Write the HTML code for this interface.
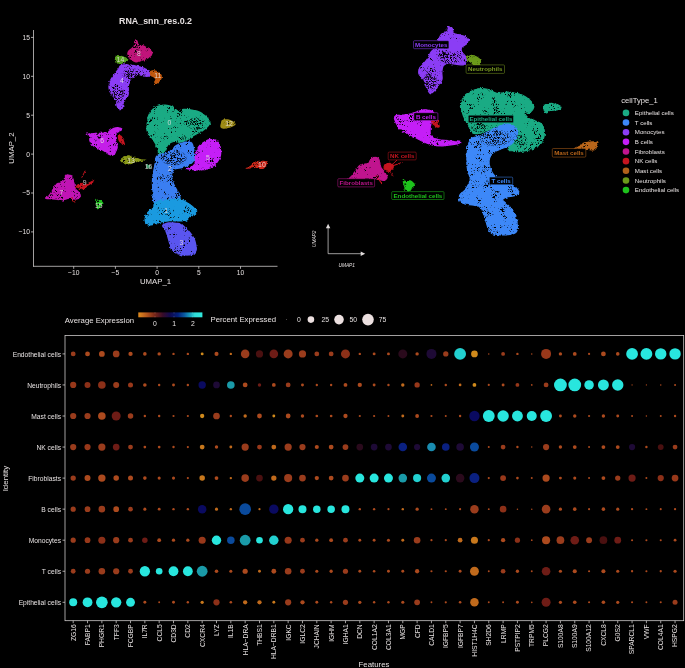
<!DOCTYPE html>
<html><head><meta charset="utf-8"><style>
html,body{margin:0;padding:0;background:#000;}
body{width:685px;height:668px;overflow:hidden;}
svg{display:block;}
text{font-family:"Liberation Sans", "DejaVu Sans", sans-serif;}
</style></head><body>
<svg width="685" height="668" viewBox="0 0 685 668">
<rect width="685" height="668" fill="#000"/>
<defs><filter id="tex" x="-10%" y="-10%" width="120%" height="120%" color-interpolation-filters="sRGB"><feTurbulence type="fractalNoise" baseFrequency="0.35" numOctaves="2" seed="2" result="t"/><feDisplacementMap in="SourceGraphic" in2="t" scale="3" xChannelSelector="R" yChannelSelector="G" result="d"/><feTurbulence type="fractalNoise" baseFrequency="1.7" numOctaves="1" seed="5" result="n1"/><feColorMatrix in="n1" type="matrix" values="0 0 0 0 0  0 0 0 0 0  0 0 0 0 0  1 0 0 0 0" result="m1"/><feTurbulence type="fractalNoise" baseFrequency="0.12" numOctaves="2" seed="9" result="n2"/><feColorMatrix in="n2" type="matrix" values="0 0 0 0 0  0 0 0 0 0  0 0 0 0 0  1 0 0 0 0" result="m2"/><feComposite in="m1" in2="m2" operator="arithmetic" k1="0" k2="7" k3="5" k4="-3.9" result="m"/><feComposite in="d" in2="m" operator="in"/></filter><filter id="holes" x="-20%" y="-20%" width="140%" height="140%" color-interpolation-filters="sRGB"><feTurbulence type="fractalNoise" baseFrequency="1.3" numOctaves="1" seed="11" result="h"/><feColorMatrix in="h" type="matrix" values="0 0 0 0 0  0 0 0 0 0  0 0 0 0 0  -9 0 0 0 4.6" result="hm"/><feComposite in="SourceGraphic" in2="hm" operator="in"/></filter><radialGradient id="hg"><stop offset="0" stop-color="#000" stop-opacity="1"/><stop offset="0.7" stop-color="#000" stop-opacity="0.8"/><stop offset="1" stop-color="#000" stop-opacity="0"/></radialGradient></defs>
<g filter="url(#tex)">
<path d="M134.3,41.0C134.9,40.1 136.6,40.0 137.3,40.4C138.0,40.8 137.9,42.7 138.5,43.4C139.1,44.1 139.7,44.1 140.9,44.6C142.1,45.1 144.3,45.7 145.7,46.4C147.1,47.1 148.2,47.9 149.3,48.8C150.4,49.7 151.8,50.8 152.3,51.8C152.8,52.8 152.8,53.8 152.3,54.8C151.8,55.8 150.4,57.0 149.3,57.8C148.2,58.6 147.1,59.0 145.7,59.6C144.3,60.2 142.5,60.8 140.9,61.3C139.3,61.8 137.6,62.6 136.1,62.5C134.6,62.4 133.1,61.4 131.9,60.7C130.7,60.0 129.8,59.5 129.0,58.4C128.2,57.3 127.3,55.5 127.2,54.2C127.1,52.9 127.7,51.6 128.4,50.6C129.1,49.6 130.4,49.0 131.3,48.2C132.2,47.4 133.2,47.0 133.7,45.8C134.2,44.6 133.7,41.9 134.3,41.0Z" fill="#c0147a"/>
<path d="M116.0,55.2C116.7,54.7 118.6,55.3 120.0,55.6C121.4,55.9 123.1,56.2 124.5,56.8C125.9,57.4 127.8,58.4 128.2,59.2C128.6,60.0 127.8,60.9 126.8,61.6C125.8,62.3 123.9,63.0 122.5,63.4C121.1,63.8 119.4,64.2 118.4,64.0C117.4,63.8 116.7,62.9 116.3,62.0C115.9,61.1 115.8,59.6 115.8,58.5C115.8,57.4 115.3,55.7 116.0,55.2Z" fill="#56a01e"/>
<path d="M120.6,64.9C122.4,64.2 126.4,64.2 129.0,64.3C131.6,64.4 133.7,65.0 136.1,65.5C138.5,66.0 141.3,66.6 143.3,67.3C145.3,68.0 146.8,68.9 148.1,69.7C149.4,70.5 150.7,71.1 151.1,72.1C151.5,73.1 151.2,74.9 150.5,75.7C149.8,76.5 148.5,76.9 146.9,76.9C145.3,76.9 142.7,75.8 140.9,75.7C139.1,75.6 137.7,75.7 136.1,76.3C134.5,76.9 132.5,77.8 131.3,79.3C130.1,80.8 129.4,83.3 129.0,85.3C128.6,87.3 129.1,89.5 129.0,91.3C128.9,93.1 129.0,94.7 128.4,96.1C127.8,97.5 126.2,98.3 125.4,99.7C124.6,101.1 124.1,102.9 123.6,104.5C123.1,106.1 123.2,108.4 122.4,109.3C121.6,110.2 119.8,110.5 118.8,109.9C117.8,109.3 116.9,107.2 116.4,105.7C115.9,104.2 116.5,102.5 115.8,100.9C115.1,99.3 113.3,97.7 112.2,96.1C111.1,94.5 109.8,93.1 109.2,91.3C108.6,89.5 108.2,87.3 108.4,85.3C108.6,83.3 109.4,81.3 110.4,79.3C111.4,77.3 113.3,75.1 114.6,73.3C115.9,71.5 117.2,69.9 118.2,68.5C119.2,67.1 118.8,65.6 120.6,64.9Z" fill="#8b3df5"/>
<path d="M149.9,71.5C150.5,70.6 152.6,70.2 154.1,70.3C155.6,70.4 157.6,71.2 158.9,72.1C160.2,73.0 161.5,74.5 161.9,75.7C162.3,76.9 161.8,78.2 161.3,79.3C160.8,80.4 159.8,81.5 158.9,82.3C158.0,83.1 156.7,84.1 155.9,84.1C155.1,84.1 154.2,83.1 154.1,82.3C154.0,81.5 155.5,80.2 155.3,79.3C155.1,78.4 153.7,77.5 152.9,76.9C152.1,76.3 151.0,76.6 150.5,75.7C150.0,74.8 149.3,72.4 149.9,71.5Z" fill="#c0580e"/>
<path d="M146.5,125.5C146.7,123.2 146.7,119.5 147.5,117.0C148.3,114.5 149.3,112.1 151.1,110.2C152.9,108.3 155.9,106.5 158.3,105.6C160.7,104.7 163.2,104.5 165.4,104.6C167.6,104.7 170.1,105.4 171.6,106.1C173.1,106.8 173.6,108.0 174.6,108.7C175.6,109.4 176.2,110.2 177.7,110.2C179.2,110.2 181.6,108.9 183.8,108.7C186.0,108.5 188.4,108.8 191.0,109.2C193.6,109.6 196.8,110.2 199.2,111.2C201.6,112.2 203.4,113.6 205.3,115.3C207.2,117.0 209.9,119.6 210.4,121.5C210.9,123.4 209.8,124.9 208.4,126.6C207.0,128.3 204.2,130.3 202.2,131.7C200.1,133.0 198.0,133.7 196.1,134.7C194.2,135.7 192.7,136.8 191.0,137.8C189.3,138.8 188.0,140.1 185.9,140.9C183.8,141.8 180.8,142.7 178.7,142.9C176.6,143.1 175.3,141.6 173.6,141.9C171.9,142.2 169.9,143.5 168.5,145.0C167.1,146.5 166.6,149.4 165.4,151.1C164.2,152.8 162.5,154.2 161.3,155.2C160.1,156.2 159.0,158.2 158.3,157.2C157.6,156.2 158.2,151.7 157.3,149.0C156.5,146.3 154.6,143.1 153.2,140.9C151.8,138.7 150.2,137.5 149.1,135.8C148.0,134.1 146.9,132.4 146.5,130.7C146.1,129.0 146.3,127.8 146.5,125.5Z" fill="#1aab84"/>
<path d="M222.2,119.9C223.4,119.3 226.1,119.0 228.0,119.3C229.9,119.6 232.6,120.8 233.9,121.7C235.2,122.6 235.8,123.8 235.6,124.6C235.4,125.4 234.0,125.8 232.7,126.4C231.4,127.0 229.6,127.7 228.0,128.1C226.4,128.5 224.7,128.9 223.4,128.7C222.1,128.5 220.8,127.9 220.4,126.9C220.0,125.9 220.7,124.0 221.0,122.8C221.3,121.6 221.0,120.5 222.2,119.9Z" fill="#9e8c16"/>
<path d="M152.6,192.1C153.9,191.2 157.9,191.3 161.0,191.0C164.1,190.7 168.6,189.7 171.4,190.0C174.2,190.3 176.1,191.7 177.7,193.1C179.3,194.5 179.5,197.0 180.9,198.4C182.3,199.8 184.2,200.3 186.1,201.5C188.0,202.7 190.6,204.1 192.4,205.7C194.2,207.3 196.6,209.6 197.1,211.0C197.6,212.4 196.7,213.0 195.6,214.1C194.5,215.2 191.7,216.2 190.3,217.3C188.9,218.4 188.6,219.7 187.2,220.4C185.8,221.1 184.0,221.2 181.9,221.4C179.8,221.6 176.9,221.4 174.6,221.4C172.3,221.4 170.6,221.2 168.3,221.4C166.0,221.6 163.1,222.0 161.0,222.5C158.9,223.0 157.8,224.1 155.7,224.6C153.6,225.1 150.2,225.9 148.4,225.6C146.6,225.2 145.2,224.2 144.7,222.5C144.2,220.8 144.6,217.1 145.2,215.2C145.8,213.3 147.2,212.2 148.4,211.0C149.6,209.8 151.7,209.2 152.6,207.8C153.5,206.4 153.5,204.5 153.6,202.6C153.7,200.7 153.3,198.1 153.1,196.3C152.9,194.6 151.3,193.0 152.6,192.1Z" fill="#1a9ae0"/>
<path d="M162.0,225.6C162.3,224.2 165.2,223.0 167.3,222.5C169.4,222.0 172.3,222.3 174.6,222.5C176.9,222.7 179.2,222.8 180.9,223.5C182.7,224.2 183.5,225.3 185.1,226.7C186.7,228.1 188.7,230.0 190.3,231.9C191.9,233.8 193.4,235.9 194.5,238.2C195.6,240.5 196.2,243.5 196.6,245.6C196.9,247.7 197.3,249.2 196.6,250.8C195.9,252.4 194.5,254.2 192.4,255.0C190.3,255.8 186.6,255.7 184.0,255.5C181.4,255.3 178.8,254.7 176.7,253.9C174.6,253.1 172.6,252.4 171.4,250.8C170.2,249.2 170.1,246.8 169.4,244.5C168.7,242.2 168.0,239.5 167.3,237.2C166.6,234.9 166.1,232.8 165.2,230.9C164.3,229.0 161.7,227.0 162.0,225.6Z" fill="#5a55f0"/>
<path d="M156.1,156.1C157.1,154.8 159.2,154.2 161.1,153.6C163.0,153.0 165.4,153.2 167.3,152.4C169.2,151.6 170.9,149.8 172.3,148.6C173.8,147.3 174.3,145.9 176.0,144.9C177.7,143.9 180.1,143.0 182.2,142.4C184.3,141.8 186.8,141.2 188.4,141.2C190.1,141.2 191.2,141.4 192.1,142.4C193.0,143.4 193.5,145.3 194.0,147.4C194.5,149.5 194.9,152.7 195.0,154.9C195.1,157.1 195.5,158.7 194.5,160.5C193.5,162.3 191.3,164.2 189.0,165.5C186.7,166.8 183.3,167.8 180.9,168.5C178.5,169.2 176.1,168.7 174.7,169.7C173.3,170.7 172.5,172.6 172.3,174.7C172.1,176.8 172.7,179.6 173.5,182.1C174.3,184.6 176.0,187.1 177.2,189.6C178.4,192.1 181.8,195.4 180.9,197.0C180.0,198.6 175.5,198.5 172.0,199.0C168.5,199.5 163.1,199.5 160.0,200.0C156.9,200.5 154.9,203.5 153.6,202.0C152.3,200.5 152.7,194.1 152.4,190.8C152.1,187.5 151.8,184.8 151.8,182.1C151.8,179.4 152.1,177.0 152.4,174.7C152.7,172.4 153.2,170.8 153.6,168.5C154.0,166.2 154.5,163.2 154.9,161.1C155.3,159.0 155.1,157.3 156.1,156.1Z" fill="#3a7ef2"/>
<path d="M185.9,168.5C186.3,167.9 190.7,167.0 192.1,166.0C193.5,165.0 194.2,163.8 194.6,162.3C195.0,160.9 194.4,159.0 194.6,157.3C194.8,155.7 195.2,154.2 195.8,152.4C196.4,150.6 196.9,148.1 198.3,146.2C199.8,144.3 202.4,142.4 204.5,141.2C206.6,139.9 208.6,138.9 210.7,138.7C212.8,138.5 215.2,138.8 216.9,140.0C218.6,141.2 219.9,143.9 220.6,146.2C221.3,148.5 221.5,151.3 221.3,153.6C221.1,155.9 220.6,157.7 219.4,159.8C218.2,161.9 216.5,164.3 214.4,166.0C212.3,167.7 209.7,169.0 207.0,169.7C204.3,170.4 201.2,170.4 198.3,170.4C195.4,170.4 191.7,170.0 189.6,169.7C187.5,169.4 185.5,169.1 185.9,168.5Z" fill="#c51ef7"/>
<path d="M86.1,133.8C86.8,133.6 88.7,133.5 90.2,133.3C91.7,133.1 93.6,132.9 95.3,132.8C97.0,132.7 98.5,132.9 100.4,132.8C102.3,132.7 105.1,132.7 106.6,132.3C108.1,131.9 108.4,131.0 109.6,130.2C110.8,129.4 112.2,128.2 113.7,127.7C115.2,127.2 117.3,127.0 118.8,127.2C120.2,127.4 122.1,128.0 122.4,128.7C122.8,129.4 121.8,130.4 120.9,131.2C120.0,132.0 117.7,132.3 116.8,133.3C115.9,134.3 115.8,135.9 115.8,137.4C115.8,138.9 116.5,140.8 116.8,142.5C117.1,144.2 118.0,145.9 117.8,147.6C117.6,149.3 116.5,151.3 115.8,152.7C115.1,154.1 114.7,155.4 113.7,155.8C112.7,156.2 111.0,155.8 109.6,155.3C108.2,154.8 107.0,153.6 105.5,152.7C104.0,151.8 102.1,150.4 100.4,149.6C98.7,148.8 96.8,148.4 95.3,147.6C93.8,146.8 92.2,145.7 91.2,144.5C90.2,143.3 89.5,141.8 89.2,140.4C88.9,139.0 89.7,137.2 89.2,136.3C88.7,135.4 86.6,135.2 86.1,134.8C85.6,134.4 85.4,134.1 86.1,133.8Z" fill="#c41ee8"/>
<path d="M117.8,136.3C118.2,135.4 120.1,135.0 120.9,135.3C121.8,135.6 122.4,137.1 122.9,137.9C123.4,138.8 123.6,139.3 123.9,140.4C124.2,141.5 125.2,143.7 125.0,144.5C124.8,145.3 123.6,145.2 122.9,145.0C122.2,144.8 121.6,143.7 120.9,143.0C120.2,142.3 119.3,142.0 118.8,140.9C118.3,139.8 117.4,137.2 117.8,136.3Z" fill="#c5141f"/>
<path d="M121.9,157.8C122.6,157.2 123.8,156.7 125.0,156.3C126.2,155.9 127.7,155.1 129.0,155.3C130.3,155.5 131.7,156.8 133.1,157.3C134.5,157.8 135.8,158.0 137.2,158.3C138.6,158.6 139.8,159.0 141.3,159.3C142.8,159.6 146.4,159.6 146.4,159.9C146.4,160.2 143.2,160.5 141.3,160.9C139.4,161.3 137.1,161.9 135.2,162.4C133.3,162.9 131.6,163.6 130.1,163.9C128.6,164.2 127.2,164.8 126.0,164.5C124.8,164.2 123.8,163.2 122.9,162.4C122.1,161.6 121.1,160.7 120.9,159.9C120.7,159.1 121.2,158.4 121.9,157.8Z" fill="#8a9a18"/>
<path d="M44.6,198.7C44.3,198.1 47.1,196.9 48.2,195.7C49.3,194.5 50.2,193.3 51.2,191.6C52.2,189.9 53.3,186.8 54.3,185.4C55.3,184.0 56.4,183.4 57.4,182.9C58.4,182.4 59.2,183.0 60.4,182.4C61.6,181.8 63.7,180.5 64.5,179.3C65.3,178.1 64.5,176.0 65.0,175.2C65.5,174.3 66.5,174.1 67.6,174.2C68.7,174.3 70.7,174.8 71.7,175.7C72.7,176.5 73.2,177.9 73.7,179.3C74.2,180.8 74.4,182.9 74.7,184.4C75.0,185.9 75.1,187.3 75.8,188.5C76.5,189.7 77.9,190.4 78.8,191.6C79.7,192.8 80.9,194.5 80.9,195.7C80.9,196.9 79.8,198.0 78.8,198.7C77.8,199.4 76.0,199.7 74.7,199.7C73.4,199.7 72.2,198.7 70.7,198.7C69.2,198.7 66.5,199.2 65.5,199.7C64.5,200.2 65.3,201.7 64.5,201.8C63.6,201.9 61.9,200.7 60.4,200.3C58.9,200.0 57.0,199.9 55.3,199.7C53.6,199.5 52.0,199.4 50.2,199.2C48.4,199.0 44.9,199.3 44.6,198.7Z" fill="#c014b4"/>
<path d="M75.8,186.5C76.0,185.7 77.6,184.0 78.8,183.4C80.0,182.8 81.7,182.7 82.9,182.9C84.1,183.1 84.5,184.7 86.0,184.4C87.5,184.2 90.9,181.7 92.1,181.4C93.3,181.1 93.9,181.6 93.1,182.4C92.2,183.2 88.3,185.3 87.0,186.5C85.7,187.7 86.0,189.1 85.0,189.5C84.0,189.9 82.1,189.2 80.9,189.0C79.7,188.8 78.7,188.4 77.8,188.0C76.9,187.6 75.6,187.3 75.8,186.5Z" fill="#c5141f"/>
<path d="M95.2,198.7C95.5,198.3 96.2,200.0 97.2,200.3C98.2,200.6 100.3,199.7 101.3,200.3C102.3,200.9 103.6,202.9 103.4,203.8C103.2,204.7 101.2,205.0 100.3,205.9C99.4,206.8 98.9,209.3 98.2,209.5C97.5,209.7 96.6,208.0 96.2,206.9C95.8,205.8 95.9,204.2 95.7,202.8C95.5,201.4 95.0,199.1 95.2,198.7Z" fill="#20c020"/>
<path d="M252.6,162.6C254.0,161.9 257.3,161.0 259.6,160.8C261.9,160.6 265.5,160.5 266.6,161.4C267.7,162.3 266.6,164.8 266.0,166.1C265.4,167.4 264.4,168.6 263.1,169.0C261.8,169.4 260.0,168.7 258.4,168.4C256.8,168.1 255.3,167.2 253.7,167.2C252.1,167.2 250.4,168.2 249.0,168.4C247.6,168.6 245.1,169.0 245.5,168.4C245.9,167.8 250.2,165.9 251.4,164.9C252.6,163.9 251.2,163.3 252.6,162.6Z" fill="#d0281a"/>
<path d="M146.6,164.6C147.2,164.2 148.9,163.9 149.6,164.2C150.3,164.5 150.6,165.8 150.6,166.5C150.6,167.2 150.0,168.1 149.4,168.4C148.8,168.7 147.3,168.6 146.8,168.3C146.3,168.0 146.2,167.0 146.2,166.4C146.2,165.8 146.0,165.0 146.6,164.6Z" fill="#3a9a6a"/>
<path d="M448.5,27.2C449.4,26.8 451.2,27.1 452.1,28.1C453.0,29.2 452.4,32.3 453.9,33.5C455.4,34.7 458.7,34.5 461.1,35.3C463.5,36.0 467.2,37.0 468.3,38.0C469.4,39.0 468.2,40.0 467.9,41.0C467.6,42.0 467.3,43.2 466.3,44.2C465.3,45.2 462.5,46.0 461.7,47.3C460.9,48.6 461.0,50.4 461.7,51.9C462.4,53.4 464.8,55.0 465.6,56.5C466.4,58.0 466.7,59.7 466.3,61.1C465.9,62.5 465.1,64.4 463.3,64.9C461.5,65.4 458.2,64.3 455.6,64.1C453.1,63.8 450.1,63.1 448.0,63.4C445.9,63.7 444.3,64.3 443.3,65.7C442.3,67.1 442.0,69.5 441.8,71.8C441.6,74.1 442.5,77.1 442.0,79.3C441.5,81.5 439.8,82.8 438.6,84.7C437.4,86.7 436.4,89.5 435.0,91.0C433.6,92.5 431.9,94.0 430.5,93.6C429.1,93.1 428.1,90.7 426.9,88.3C425.7,85.9 424.7,81.7 423.4,79.3C422.1,76.9 419.5,75.8 418.9,73.9C418.3,72.0 418.9,69.6 419.6,68.0C420.4,66.4 422.0,65.8 423.4,64.1C424.8,62.4 426.7,60.0 428.0,58.0C429.3,56.0 429.8,53.7 431.1,51.9C432.4,50.1 434.6,49.1 435.7,47.3C436.8,45.5 437.1,43.2 438.0,41.1C438.9,39.0 439.9,36.1 441.3,34.4C442.8,32.7 445.5,32.0 446.7,30.8C447.9,29.6 447.6,27.6 448.5,27.2Z" fill="#8b3df5" stroke="#8b3df5" stroke-width="1.2" stroke-linejoin="round"/>
<path d="M461.4,107.3C461.5,104.9 461.6,100.2 463.0,97.7C464.4,95.2 466.8,93.5 469.5,92.0C472.2,90.5 475.9,89.2 479.1,88.8C482.3,88.4 486.3,89.1 488.7,89.6C491.1,90.1 491.9,91.3 493.5,92.0C495.1,92.7 496.0,93.7 498.4,93.7C500.8,93.7 504.8,92.0 508.0,92.0C511.2,92.0 514.6,92.9 517.6,93.7C520.6,94.5 523.3,95.4 525.7,96.9C528.1,98.4 530.8,100.8 532.1,102.5C533.4,104.2 534.0,105.7 533.7,107.3C533.4,108.9 531.8,110.9 530.5,112.1C529.2,113.3 526.0,113.4 525.7,114.5C525.4,115.6 527.3,117.4 528.9,118.5C530.5,119.6 533.2,120.0 535.3,121.0C537.4,122.0 540.2,122.7 541.7,124.2C543.2,125.7 543.7,127.8 544.1,129.8C544.5,131.8 544.5,134.1 544.1,136.2C543.7,138.3 543.2,140.7 541.7,142.6C540.2,144.5 538.0,146.1 535.3,147.4C532.6,148.8 529.2,150.0 525.7,150.7C522.2,151.4 517.4,151.8 514.4,151.5C511.4,151.2 508.5,150.3 508.0,149.1C507.5,147.9 509.9,146.1 511.2,144.2C512.5,142.3 514.9,139.9 516.0,137.8C517.1,135.7 517.9,133.3 517.6,131.4C517.3,129.5 516.0,127.8 514.4,126.6C512.8,125.4 510.4,124.3 508.0,124.2C505.6,124.1 502.9,124.9 500.0,125.8C497.1,126.7 493.5,128.6 490.3,129.8C487.1,131.0 483.6,132.5 480.7,133.0C477.8,133.5 474.6,134.1 472.7,133.0C470.8,131.9 470.9,129.0 469.5,126.6C468.1,124.2 465.8,120.9 464.6,118.5C463.4,116.1 462.7,114.0 462.2,112.1C461.7,110.2 461.3,109.7 461.4,107.3Z" fill="#1aab84" stroke="#1aab84" stroke-width="1.2" stroke-linejoin="round"/>
<path d="M544.9,104.9C546.1,104.0 549.2,103.3 551.4,103.3C553.5,103.3 556.2,104.2 557.8,104.9C559.4,105.6 561.0,106.5 561.0,107.3C561.0,108.1 559.7,109.2 557.8,109.7C555.9,110.2 551.6,110.0 549.7,110.5C547.8,111.0 547.4,113.2 546.5,112.9C545.6,112.6 544.4,110.2 544.1,108.9C543.8,107.6 543.7,105.8 544.9,104.9Z" fill="#1aab84" stroke="#1aab84" stroke-width="1.2" stroke-linejoin="round"/>
<path d="M472.0,138.0C474.1,136.7 477.7,136.9 481.0,135.5C484.3,134.1 488.8,131.1 492.0,129.5C495.2,127.9 497.3,126.7 500.0,125.8C502.7,124.9 505.6,124.1 508.0,124.2C510.4,124.3 512.8,125.4 514.4,126.6C516.0,127.8 517.3,129.5 517.6,131.4C517.9,133.3 517.1,135.7 516.0,137.8C514.9,139.9 513.1,142.6 511.2,144.2C509.3,145.8 507.3,146.3 504.8,147.4C502.3,148.5 498.2,149.9 496.0,151.0C493.8,152.1 492.9,152.4 491.8,154.0C490.7,155.6 489.3,158.3 489.1,160.8C488.9,163.3 489.5,166.4 490.4,168.9C491.3,171.4 492.6,173.6 494.4,175.6C496.2,177.6 498.7,179.7 501.2,181.0C503.7,182.3 506.8,182.6 509.3,183.7C511.8,184.8 514.4,186.1 516.0,187.7C517.6,189.3 518.9,191.8 518.7,193.1C518.5,194.4 516.6,195.1 514.6,195.8C512.6,196.5 508.6,196.4 506.6,197.1C504.6,197.8 502.5,198.7 502.5,199.8C502.5,200.9 505.0,202.3 506.6,203.9C508.2,205.5 510.4,207.1 512.0,209.3C513.6,211.5 515.1,214.6 516.0,217.3C516.9,220.0 517.3,222.9 517.3,225.4C517.3,227.9 517.8,230.6 516.0,232.2C514.2,233.8 510.2,234.5 506.6,234.8C503.0,235.1 497.3,234.9 494.4,234.2C491.5,233.5 490.4,232.7 489.1,230.8C487.8,228.9 487.3,225.4 486.4,222.7C485.5,220.0 484.6,217.1 483.7,214.6C482.8,212.1 482.6,209.5 481.0,207.9C479.4,206.3 476.9,205.9 474.2,205.2C471.5,204.5 467.1,204.6 464.8,203.9C462.5,203.2 460.9,202.8 460.1,201.2C459.3,199.6 459.3,196.2 460.1,194.4C460.9,192.6 463.1,192.9 464.8,190.4C466.5,187.9 469.8,183.0 470.2,179.6C470.6,176.2 468.1,173.3 467.5,170.2C466.9,167.1 466.8,164.2 466.8,160.8C466.8,157.4 467.2,152.9 467.5,150.0C467.8,147.1 467.9,145.4 468.7,143.4C469.4,141.4 469.9,139.3 472.0,138.0Z" fill="#3d88f8" stroke="#3d88f8" stroke-width="1.2" stroke-linejoin="round"/>
<path d="M394.4,117.4C394.6,116.0 395.2,115.8 397.4,115.3C399.6,114.8 404.6,115.2 407.7,114.7C410.8,114.2 413.1,113.1 415.8,112.3C418.5,111.5 421.3,110.0 424.0,109.8C426.7,109.6 430.5,110.1 432.2,111.2C433.9,112.3 434.4,114.4 434.2,116.3C434.0,118.2 431.9,120.1 431.2,122.5C430.5,124.9 430.1,128.4 430.1,130.7C430.1,133.0 429.8,134.9 431.2,136.4C432.6,137.9 435.4,138.8 438.3,139.6C441.2,140.3 444.8,140.4 448.5,140.9C452.2,141.4 460.1,142.0 460.8,142.6C461.5,143.2 456.0,144.1 452.6,144.6C449.2,145.1 443.8,145.8 440.4,145.8C437.0,145.8 434.9,145.5 432.2,144.8C429.5,144.2 426.7,143.1 424.0,141.9C421.3,140.7 418.5,139.2 415.8,137.8C413.1,136.4 410.2,135.1 407.7,133.7C405.1,132.3 402.4,131.3 400.5,129.6C398.6,127.9 397.4,125.5 396.4,123.5C395.4,121.5 394.2,118.8 394.4,117.4Z" fill="#c51ef7" stroke="#c51ef7" stroke-width="1.2" stroke-linejoin="round"/>
<path d="M349.9,177.9C350.5,177.1 352.4,175.2 353.6,173.6C354.8,172.0 356.3,169.9 357.3,168.6C358.3,167.2 358.8,166.2 359.8,165.5C360.8,164.8 362.1,164.6 363.5,164.3C364.9,164.0 367.2,164.5 368.5,163.6C369.8,162.7 370.0,159.7 371.0,158.7C372.0,157.7 373.5,157.4 374.7,157.4C375.9,157.4 377.6,157.9 378.4,158.7C379.2,159.5 379.3,160.9 379.7,162.4C380.1,163.9 380.1,165.8 380.9,167.4C381.7,169.1 383.6,170.7 384.6,172.3C385.6,174.0 387.1,176.0 387.1,177.3C387.1,178.7 385.6,180.0 384.6,180.4C383.6,180.8 382.1,180.0 380.9,179.8C379.7,179.6 378.6,179.4 377.2,179.2C375.8,179.0 375.1,178.7 372.2,178.6C369.3,178.5 363.5,178.8 359.8,178.8C356.1,178.8 351.6,178.8 350.0,178.6C348.4,178.4 349.3,178.7 349.9,177.9Z" fill="#c0148e" stroke="#c0148e" stroke-width="1.2" stroke-linejoin="round"/>
<path d="M384.6,165.0C385.2,164.1 386.8,163.8 388.0,163.6C389.2,163.4 391.1,163.4 392.0,164.0C392.9,164.6 393.5,165.9 393.3,167.0C393.1,168.1 392.1,169.8 391.0,170.5C389.9,171.2 388.1,171.3 387.0,171.1C385.9,170.8 385.0,170.0 384.6,169.0C384.2,168.0 384.0,165.9 384.6,165.0Z" fill="#c5141f" stroke="#c5141f" stroke-width="1.2" stroke-linejoin="round"/>
<path d="M403.2,179.8C403.4,179.1 404.4,181.4 405.7,181.6C406.9,181.8 409.2,180.4 410.7,181.0C412.1,181.6 414.3,184.2 414.4,185.4C414.5,186.7 412.1,187.6 411.3,188.5C410.5,189.4 410.2,190.8 409.4,191.0C408.6,191.2 407.1,190.5 406.3,189.7C405.5,188.9 405.0,187.7 404.5,186.0C404.0,184.3 403.0,180.5 403.2,179.8Z" fill="#1ec21c" stroke="#1ec21c" stroke-width="1.2" stroke-linejoin="round"/>
<path d="M467.0,56.6C467.7,55.8 470.1,55.4 471.7,55.5C473.4,55.6 475.6,56.3 477.1,57.2C478.5,58.1 480.0,59.5 480.4,60.6C480.9,61.8 480.3,63.0 479.8,64.1C479.2,65.1 478.1,66.2 477.1,67.0C476.1,67.7 474.6,68.7 473.7,68.7C472.8,68.7 471.8,67.7 471.7,67.0C471.6,66.2 473.3,65.0 473.1,64.1C472.8,63.2 471.3,62.4 470.4,61.8C469.5,61.2 468.3,61.5 467.7,60.6C467.2,59.8 466.4,57.5 467.0,56.6Z" fill="#6a9a1a" stroke="#6a9a1a" stroke-width="1.2" stroke-linejoin="round"/>
<path d="M431.2,118.6C431.6,117.7 433.7,117.4 434.6,117.7C435.6,117.9 436.3,119.4 436.9,120.2C437.4,121.0 437.6,121.5 438.0,122.6C438.4,123.6 439.4,125.8 439.2,126.5C439.0,127.2 437.6,127.2 436.9,127.0C436.1,126.7 435.4,125.7 434.6,125.1C433.9,124.4 432.9,124.1 432.3,123.0C431.7,122.0 430.8,119.5 431.2,118.6Z" fill="#c5141f" stroke="#c5141f" stroke-width="1.2" stroke-linejoin="round"/>
<path d="M581.8,143.8C583.3,143.2 587.0,142.3 589.6,142.1C592.2,141.9 596.2,141.8 597.4,142.7C598.6,143.5 597.4,145.9 596.7,147.2C596.1,148.4 594.9,149.6 593.5,149.9C592.1,150.3 590.0,149.6 588.2,149.4C586.5,149.1 584.7,148.2 583.0,148.2C581.2,148.2 579.3,149.2 577.7,149.4C576.2,149.6 573.4,149.9 573.8,149.4C574.3,148.8 579.1,146.9 580.4,146.0C581.7,145.1 580.2,144.5 581.8,143.8Z" fill="#b8651a" stroke="#b8651a" stroke-width="1.2" stroke-linejoin="round"/>
<line x1="81.9" y1="177.3" x2="85" y2="171.1" stroke="#c5141f" stroke-width="1.0" stroke-linecap="round"/>
<line x1="71.7" y1="197.7" x2="74.7" y2="202.3" stroke="#c5141f" stroke-width="1.0" stroke-linecap="round"/>
<line x1="86" y1="184.4" x2="94" y2="180.5" stroke="#c5141f" stroke-width="1.0" stroke-linecap="round"/>
<line x1="392.1" y1="166.1" x2="402" y2="162.4" stroke="#c5141f" stroke-width="1.1" stroke-linecap="round"/>
<line x1="393.3" y1="163.6" x2="397" y2="160" stroke="#c5141f" stroke-width="0.9" stroke-linecap="round"/>
<line x1="377" y1="176" x2="381.5" y2="183.5" stroke="#c5141f" stroke-width="1.2" stroke-linecap="round"/>
<line x1="389" y1="170" x2="393" y2="176" stroke="#c5141f" stroke-width="0.7" stroke-linecap="round"/>
</g>
<g filter="url(#holes)">
<ellipse cx="134" cy="74" rx="13" ry="6" fill="url(#hg)"/>
<ellipse cx="118" cy="94" rx="7" ry="10" fill="url(#hg)"/>
<ellipse cx="174" cy="158" rx="14" ry="8" fill="url(#hg)"/>
<ellipse cx="450" cy="58" rx="14" ry="7" fill="url(#hg)"/>
<ellipse cx="430" cy="82" rx="8" ry="10" fill="url(#hg)"/>
<ellipse cx="495" cy="138" rx="18" ry="9" fill="url(#hg)"/>
<ellipse cx="480" cy="128" rx="10" ry="5" fill="url(#hg)"/>
<ellipse cx="197" cy="124" rx="10" ry="7" fill="url(#hg)"/>
<ellipse cx="520" cy="140" rx="8" ry="6" fill="url(#hg)"/>
</g>
<g font-size="6.8" fill="#e8e0e0" text-anchor="middle" opacity="0.85">
<text x="169.4" y="124.8">0</text>
<text x="229" y="126.0">12</text>
<text x="208" y="159.8">5</text>
<text x="170" y="171.2">2</text>
<text x="148.6" y="168.8">16</text>
<text x="131.1" y="163.0">13</text>
<text x="102.2" y="143.4">6</text>
<text x="84.7" y="184.9">9</text>
<text x="61.4" y="194.6">7</text>
<text x="98.7" y="207.7">15</text>
<text x="166.2" y="213.0">1</text>
<text x="181.4" y="245.0">3</text>
<text x="261.9" y="166.5">10</text>
<text x="138.8" y="56.4">8</text>
<text x="120.4" y="62.4">14</text>
<text x="121.9" y="83.3">4</text>
<text x="157.8" y="78.1">11</text>
</g>
<rect x="413.5" y="40.7" width="35.4" height="8.0" rx="1" fill="#000" fill-opacity="1" stroke="#8b3df5" stroke-width="0.5"/>
<text x="431.2" y="46.9" font-size="6.2" font-weight="bold" text-anchor="middle" fill="#8b3df5">Monocytes</text>
<rect x="466.1" y="64.9" width="38.4" height="8.5" rx="1" fill="#000" fill-opacity="1" stroke="#7a9a20" stroke-width="0.5"/>
<text x="485.3" y="71.4" font-size="6.2" font-weight="bold" text-anchor="middle" fill="#7a9a20">Neutrophils</text>
<rect x="468.3" y="115.2" width="45.2" height="7.5" rx="1" fill="#000" fill-opacity="1" stroke="#1aab84" stroke-width="0.5"/>
<text x="490.9" y="121.2" font-size="6.2" font-weight="bold" text-anchor="middle" fill="#1aab84">Epithelial cells</text>
<rect x="413.8" y="112.7" width="24.1" height="7.7" rx="1" fill="#000" fill-opacity="1" stroke="#c51ef7" stroke-width="0.5"/>
<text x="425.9" y="118.8" font-size="6.2" font-weight="bold" text-anchor="middle" fill="#c51ef7">B cells</text>
<rect x="552.3" y="148.5" width="33.5" height="8.6" rx="1" fill="#000" fill-opacity="1" stroke="#b8651a" stroke-width="0.5"/>
<text x="569.0" y="155.0" font-size="6.2" font-weight="bold" text-anchor="middle" fill="#b8651a">Mast cells</text>
<rect x="388.2" y="152.1" width="28.0" height="7.8" rx="1" fill="#000" fill-opacity="1" stroke="#c5141f" stroke-width="0.5"/>
<text x="402.2" y="158.2" font-size="6.2" font-weight="bold" text-anchor="middle" fill="#c5141f">NK cells</text>
<rect x="489.4" y="177.1" width="23.3" height="7.6" rx="1" fill="#000" fill-opacity="1" stroke="#3d88f8" stroke-width="0.5"/>
<text x="501.1" y="183.1" font-size="6.2" font-weight="bold" text-anchor="middle" fill="#3d88f8">T cells</text>
<rect x="337.8" y="178.7" width="36.8" height="8.2" rx="1" fill="#000" fill-opacity="1" stroke="#c0148e" stroke-width="0.5"/>
<text x="356.2" y="185.0" font-size="6.2" font-weight="bold" text-anchor="middle" fill="#c0148e">Fibroblasts</text>
<rect x="391.7" y="191.6" width="52.3" height="7.9" rx="1" fill="#000" fill-opacity="1" stroke="#1ec21c" stroke-width="0.5"/>
<text x="417.9" y="197.8" font-size="6.2" font-weight="bold" text-anchor="middle" fill="#1ec21c">Endothelial cells</text>
<text x="155.5" y="24.4" font-size="8.9" font-weight="bold" text-anchor="middle" fill="#e6e1e1">RNA_snn_res.0.2</text>
<g stroke="#d8d4d4" stroke-width="0.75" fill="none">
<line x1="33.5" y1="30" x2="33.5" y2="266.6"/>
<line x1="33.1" y1="266.3" x2="277.5" y2="266.3"/>
<line x1="31" y1="37.40" x2="33.5" y2="37.40"/>
<line x1="31" y1="76.30" x2="33.5" y2="76.30"/>
<line x1="31" y1="115.20" x2="33.5" y2="115.20"/>
<line x1="31" y1="154.10" x2="33.5" y2="154.10"/>
<line x1="31" y1="193.00" x2="33.5" y2="193.00"/>
<line x1="31" y1="231.90" x2="33.5" y2="231.90"/>
<line x1="73.70" y1="266.3" x2="73.70" y2="268.8"/>
<line x1="115.40" y1="266.3" x2="115.40" y2="268.8"/>
<line x1="157.10" y1="266.3" x2="157.10" y2="268.8"/>
<line x1="198.80" y1="266.3" x2="198.80" y2="268.8"/>
<line x1="240.50" y1="266.3" x2="240.50" y2="268.8"/>
</g>
<g font-size="6.7" fill="#e6e1e1">
<text x="30" y="39.80" text-anchor="end">15</text>
<text x="30" y="78.70" text-anchor="end">10</text>
<text x="30" y="117.60" text-anchor="end">5</text>
<text x="30" y="156.50" text-anchor="end">0</text>
<text x="30" y="195.40" text-anchor="end">−5</text>
<text x="30" y="234.30" text-anchor="end">−10</text>
<text x="73.70" y="275" text-anchor="middle">−10</text>
<text x="115.40" y="275" text-anchor="middle">−5</text>
<text x="157.10" y="275" text-anchor="middle">0</text>
<text x="198.80" y="275" text-anchor="middle">5</text>
<text x="240.50" y="275" text-anchor="middle">10</text>
</g>
<text x="155.5" y="283.8" font-size="7.8" text-anchor="middle" fill="#e6e1e1">UMAP_1</text>
<text transform="translate(13.6,148.1) rotate(-90)" font-size="7.8" text-anchor="middle" fill="#e6e1e1">UMAP_2</text>
<g stroke="#e0dcdc" stroke-width="0.7" fill="none">
<line x1="328.1" y1="253.7" x2="328.1" y2="227"/>
<line x1="328.1" y1="253.7" x2="362" y2="253.7"/>
</g>
<polygon points="328.1,223.8 325.9,228.3 330.3,228.3" fill="#e0dcdc"/>
<polygon points="365.2,253.7 360.7,251.4 360.7,256" fill="#e0dcdc"/>
<text x="346.7" y="266.5" font-size="4.8" font-style="italic" text-anchor="middle" fill="#e6e1e1">UMAP1</text>
<text transform="translate(315.6,238.8) rotate(-90)" font-size="4.8" font-style="italic" text-anchor="middle" fill="#e6e1e1">UMAP2</text>
<text x="621.3" y="103.2" font-size="7.6" fill="#e6e1e1">cellType_1</text>
<circle cx="626" cy="112.90" r="3.3" fill="#1aab84"/>
<text x="634.8" y="115.10" font-size="6.15" fill="#e6e1e1">Epithelial cells</text>
<circle cx="626" cy="122.55" r="3.3" fill="#3d88f8"/>
<text x="634.8" y="124.75" font-size="6.15" fill="#e6e1e1">T cells</text>
<circle cx="626" cy="132.20" r="3.3" fill="#8b3df5"/>
<text x="634.8" y="134.40" font-size="6.15" fill="#e6e1e1">Monocytes</text>
<circle cx="626" cy="141.85" r="3.3" fill="#c51ef7"/>
<text x="634.8" y="144.05" font-size="6.15" fill="#e6e1e1">B cells</text>
<circle cx="626" cy="151.50" r="3.3" fill="#c0148e"/>
<text x="634.8" y="153.70" font-size="6.15" fill="#e6e1e1">Fibroblasts</text>
<circle cx="626" cy="161.15" r="3.3" fill="#c5141f"/>
<text x="634.8" y="163.35" font-size="6.15" fill="#e6e1e1">NK cells</text>
<circle cx="626" cy="170.80" r="3.3" fill="#b0601a"/>
<text x="634.8" y="173.00" font-size="6.15" fill="#e6e1e1">Mast cells</text>
<circle cx="626" cy="180.45" r="3.3" fill="#6a9a1a"/>
<text x="634.8" y="182.65" font-size="6.15" fill="#e6e1e1">Neutrophils</text>
<circle cx="626" cy="190.10" r="3.3" fill="#1ec21c"/>
<text x="634.8" y="192.30" font-size="6.15" fill="#e6e1e1">Endothelial cells</text>
<text x="64.8" y="322.6" font-size="7.75" fill="#e6e1e1">Average Expression</text>
<defs><linearGradient id="cb" x1="0" x2="1" y1="0" y2="0"><stop offset="0" stop-color="#e08c1e"/><stop offset="0.12" stop-color="#b85a1c"/><stop offset="0.25" stop-color="#7a2818"/><stop offset="0.38" stop-color="#380c28"/><stop offset="0.5" stop-color="#0e0a50"/><stop offset="0.62" stop-color="#02207a"/><stop offset="0.72" stop-color="#0a5aa0"/><stop offset="0.82" stop-color="#1aa8c0"/><stop offset="0.88" stop-color="#30dcd8"/><stop offset="1" stop-color="#30eadc"/></linearGradient></defs>
<rect x="138.3" y="312.4" width="64.1" height="4.9" fill="url(#cb)"/>
<g stroke="#ffffff" stroke-width="0.4" opacity="0.6">
<line x1="155.0" y1="312.4" x2="155.0" y2="313.4"/><line x1="155.0" y1="316.3" x2="155.0" y2="317.3"/>
<line x1="174.0" y1="312.4" x2="174.0" y2="313.4"/><line x1="174.0" y1="316.3" x2="174.0" y2="317.3"/>
<line x1="192.8" y1="312.4" x2="192.8" y2="313.4"/><line x1="192.8" y1="316.3" x2="192.8" y2="317.3"/>
</g>
<g font-size="6.8" fill="#e6e1e1" text-anchor="middle">
<text x="155.0" y="325.6">0</text>
<text x="174.1" y="325.6">1</text>
<text x="192.8" y="325.6">2</text>
</g>
<text x="210.5" y="322.2" font-size="7.78" fill="#e6e1e1">Percent Expressed</text>
<circle cx="286.4" cy="319.6" r="0.35" fill="#ece0e0"/>
<circle cx="310.9" cy="319.6" r="3.3" fill="#ece0e0"/>
<circle cx="339.0" cy="319.6" r="4.8" fill="#ece0e0"/>
<circle cx="368.0" cy="319.6" r="5.8" fill="#ece0e0"/>
<g font-size="6.8" fill="#e6e1e1" text-anchor="middle">
<text x="298.8" y="322.0">0</text>
<text x="325.2" y="322.0">25</text>
<text x="353.3" y="322.0">50</text>
<text x="382.5" y="322.0">75</text>
</g>
<rect x="65" y="335.5" width="618.7" height="285.2" fill="none" stroke="#d8d4d4" stroke-width="0.75"/>
<g stroke="#d8d4d4" stroke-width="0.75">
<line x1="62.5" y1="353.90" x2="65" y2="353.90"/>
<line x1="62.5" y1="384.95" x2="65" y2="384.95"/>
<line x1="62.5" y1="416.00" x2="65" y2="416.00"/>
<line x1="62.5" y1="447.05" x2="65" y2="447.05"/>
<line x1="62.5" y1="478.10" x2="65" y2="478.10"/>
<line x1="62.5" y1="509.15" x2="65" y2="509.15"/>
<line x1="62.5" y1="540.20" x2="65" y2="540.20"/>
<line x1="62.5" y1="571.25" x2="65" y2="571.25"/>
<line x1="62.5" y1="602.30" x2="65" y2="602.30"/>
<line x1="73.20" y1="620.7" x2="73.20" y2="623.2"/>
<line x1="87.53" y1="620.7" x2="87.53" y2="623.2"/>
<line x1="101.86" y1="620.7" x2="101.86" y2="623.2"/>
<line x1="116.19" y1="620.7" x2="116.19" y2="623.2"/>
<line x1="130.52" y1="620.7" x2="130.52" y2="623.2"/>
<line x1="144.85" y1="620.7" x2="144.85" y2="623.2"/>
<line x1="159.18" y1="620.7" x2="159.18" y2="623.2"/>
<line x1="173.51" y1="620.7" x2="173.51" y2="623.2"/>
<line x1="187.84" y1="620.7" x2="187.84" y2="623.2"/>
<line x1="202.17" y1="620.7" x2="202.17" y2="623.2"/>
<line x1="216.50" y1="620.7" x2="216.50" y2="623.2"/>
<line x1="230.83" y1="620.7" x2="230.83" y2="623.2"/>
<line x1="245.16" y1="620.7" x2="245.16" y2="623.2"/>
<line x1="259.49" y1="620.7" x2="259.49" y2="623.2"/>
<line x1="273.82" y1="620.7" x2="273.82" y2="623.2"/>
<line x1="288.15" y1="620.7" x2="288.15" y2="623.2"/>
<line x1="302.48" y1="620.7" x2="302.48" y2="623.2"/>
<line x1="316.81" y1="620.7" x2="316.81" y2="623.2"/>
<line x1="331.14" y1="620.7" x2="331.14" y2="623.2"/>
<line x1="345.47" y1="620.7" x2="345.47" y2="623.2"/>
<line x1="359.80" y1="620.7" x2="359.80" y2="623.2"/>
<line x1="374.13" y1="620.7" x2="374.13" y2="623.2"/>
<line x1="388.46" y1="620.7" x2="388.46" y2="623.2"/>
<line x1="402.79" y1="620.7" x2="402.79" y2="623.2"/>
<line x1="417.12" y1="620.7" x2="417.12" y2="623.2"/>
<line x1="431.45" y1="620.7" x2="431.45" y2="623.2"/>
<line x1="445.78" y1="620.7" x2="445.78" y2="623.2"/>
<line x1="460.11" y1="620.7" x2="460.11" y2="623.2"/>
<line x1="474.44" y1="620.7" x2="474.44" y2="623.2"/>
<line x1="488.77" y1="620.7" x2="488.77" y2="623.2"/>
<line x1="503.10" y1="620.7" x2="503.10" y2="623.2"/>
<line x1="517.43" y1="620.7" x2="517.43" y2="623.2"/>
<line x1="531.76" y1="620.7" x2="531.76" y2="623.2"/>
<line x1="546.09" y1="620.7" x2="546.09" y2="623.2"/>
<line x1="560.42" y1="620.7" x2="560.42" y2="623.2"/>
<line x1="574.75" y1="620.7" x2="574.75" y2="623.2"/>
<line x1="589.08" y1="620.7" x2="589.08" y2="623.2"/>
<line x1="603.41" y1="620.7" x2="603.41" y2="623.2"/>
<line x1="617.74" y1="620.7" x2="617.74" y2="623.2"/>
<line x1="632.07" y1="620.7" x2="632.07" y2="623.2"/>
<line x1="646.40" y1="620.7" x2="646.40" y2="623.2"/>
<line x1="660.73" y1="620.7" x2="660.73" y2="623.2"/>
<line x1="675.06" y1="620.7" x2="675.06" y2="623.2"/>
</g>
<g font-size="6.7" fill="#e6e1e1" text-anchor="end">
<text x="61" y="356.90">Endothelial cells</text>
<text x="61" y="387.95">Neutrophils</text>
<text x="61" y="419.00">Mast cells</text>
<text x="61" y="450.05">NK cells</text>
<text x="61" y="481.10">Fibroblasts</text>
<text x="61" y="512.15">B cells</text>
<text x="61" y="543.20">Monocytes</text>
<text x="61" y="574.25">T cells</text>
<text x="61" y="605.30">Epithelial cells</text>
<text transform="translate(75.60,624.3) rotate(-90)">ZG16</text>
<text transform="translate(89.93,624.3) rotate(-90)">FABP1</text>
<text transform="translate(104.26,624.3) rotate(-90)">PHGR1</text>
<text transform="translate(118.59,624.3) rotate(-90)">TFF3</text>
<text transform="translate(132.92,624.3) rotate(-90)">FCGBP</text>
<text transform="translate(147.25,624.3) rotate(-90)">IL7R</text>
<text transform="translate(161.58,624.3) rotate(-90)">CCL5</text>
<text transform="translate(175.91,624.3) rotate(-90)">CD3D</text>
<text transform="translate(190.24,624.3) rotate(-90)">CD2</text>
<text transform="translate(204.57,624.3) rotate(-90)">CXCR4</text>
<text transform="translate(218.90,624.3) rotate(-90)">LYZ</text>
<text transform="translate(233.23,624.3) rotate(-90)">IL1B</text>
<text transform="translate(247.56,624.3) rotate(-90)">HLA−DRA</text>
<text transform="translate(261.89,624.3) rotate(-90)">THBS1</text>
<text transform="translate(276.22,624.3) rotate(-90)">HLA−DRB1</text>
<text transform="translate(290.55,624.3) rotate(-90)">IGKC</text>
<text transform="translate(304.88,624.3) rotate(-90)">IGLC2</text>
<text transform="translate(319.21,624.3) rotate(-90)">JCHAIN</text>
<text transform="translate(333.54,624.3) rotate(-90)">IGHM</text>
<text transform="translate(347.87,624.3) rotate(-90)">IGHA1</text>
<text transform="translate(362.20,624.3) rotate(-90)">DCN</text>
<text transform="translate(376.53,624.3) rotate(-90)">COL1A2</text>
<text transform="translate(390.86,624.3) rotate(-90)">COL3A1</text>
<text transform="translate(405.19,624.3) rotate(-90)">MGP</text>
<text transform="translate(419.52,624.3) rotate(-90)">CFD</text>
<text transform="translate(433.85,624.3) rotate(-90)">CALD1</text>
<text transform="translate(448.18,624.3) rotate(-90)">IGFBP5</text>
<text transform="translate(462.51,624.3) rotate(-90)">IGFBP7</text>
<text transform="translate(476.84,624.3) rotate(-90)">HIST1H4C</text>
<text transform="translate(491.17,624.3) rotate(-90)">SH2D6</text>
<text transform="translate(505.50,624.3) rotate(-90)">LRMP</text>
<text transform="translate(519.83,624.3) rotate(-90)">PSTPIP2</text>
<text transform="translate(534.16,624.3) rotate(-90)">TRPM5</text>
<text transform="translate(548.49,624.3) rotate(-90)">PLCG2</text>
<text transform="translate(562.82,624.3) rotate(-90)">S100A8</text>
<text transform="translate(577.15,624.3) rotate(-90)">S100A9</text>
<text transform="translate(591.48,624.3) rotate(-90)">S100A12</text>
<text transform="translate(605.81,624.3) rotate(-90)">CXCL8</text>
<text transform="translate(620.14,624.3) rotate(-90)">G0S2</text>
<text transform="translate(634.47,624.3) rotate(-90)">SPARCL1</text>
<text transform="translate(648.80,624.3) rotate(-90)">VWF</text>
<text transform="translate(663.13,624.3) rotate(-90)">COL4A1</text>
<text transform="translate(677.46,624.3) rotate(-90)">HSPG2</text>
</g>
<text x="374" y="667.4" font-size="7.8" text-anchor="middle" fill="#e6e1e1">Features</text>
<text transform="translate(8.0,478.6) rotate(-90)" font-size="7.9" text-anchor="middle" fill="#e6e1e1">Identity</text>
<circle cx="73.20" cy="353.90" r="2.40" fill="#9a3c1c"/>
<circle cx="87.53" cy="353.90" r="2.40" fill="#ac4a1e"/>
<circle cx="101.86" cy="353.90" r="2.90" fill="#ac4a1e"/>
<circle cx="116.19" cy="353.90" r="3.35" fill="#9a3c1c"/>
<circle cx="130.52" cy="353.90" r="2.15" fill="#ac4a1e"/>
<circle cx="144.85" cy="353.90" r="1.80" fill="#ac4a1e"/>
<circle cx="159.18" cy="353.90" r="1.70" fill="#ac4a1e"/>
<circle cx="173.51" cy="353.90" r="1.20" fill="#ac4a1e"/>
<circle cx="187.84" cy="353.90" r="1.20" fill="#ac4a1e"/>
<circle cx="202.17" cy="353.90" r="1.45" fill="#d08a1c"/>
<circle cx="216.50" cy="353.90" r="2.05" fill="#ac4a1e"/>
<circle cx="230.83" cy="353.90" r="1.20" fill="#c06a1c"/>
<circle cx="245.16" cy="353.90" r="4.30" fill="#9a3c1c"/>
<circle cx="259.49" cy="353.90" r="3.60" fill="#4a1010"/>
<circle cx="273.82" cy="353.90" r="4.30" fill="#6e1c16"/>
<circle cx="288.15" cy="353.90" r="4.50" fill="#9a3c1c"/>
<circle cx="302.48" cy="353.90" r="3.60" fill="#9a3c1c"/>
<circle cx="316.81" cy="353.90" r="2.40" fill="#9a3c1c"/>
<circle cx="331.14" cy="353.90" r="2.40" fill="#9a3c1c"/>
<circle cx="345.47" cy="353.90" r="4.50" fill="#8c3018"/>
<circle cx="359.80" cy="353.90" r="1.20" fill="#ac4a1e"/>
<circle cx="374.13" cy="353.90" r="1.45" fill="#ac4a1e"/>
<circle cx="388.46" cy="353.90" r="1.45" fill="#ac4a1e"/>
<circle cx="402.79" cy="353.90" r="4.50" fill="#2a0a1c"/>
<circle cx="417.12" cy="353.90" r="1.70" fill="#ac4a1e"/>
<circle cx="431.45" cy="353.90" r="5.00" fill="#1e0a36"/>
<circle cx="445.78" cy="353.90" r="2.65" fill="#9a3c1c"/>
<circle cx="460.11" cy="353.90" r="5.90" fill="#22d0d0"/>
<circle cx="474.44" cy="353.90" r="3.35" fill="#d08a1c"/>
<circle cx="488.77" cy="353.90" r="0.75" fill="#ac4a1e"/>
<circle cx="503.10" cy="353.90" r="1.90" fill="#9a3c1c"/>
<circle cx="517.43" cy="353.90" r="1.20" fill="#ac4a1e"/>
<circle cx="531.76" cy="353.90" r="0.75" fill="#ac4a1e"/>
<circle cx="546.09" cy="353.90" r="5.00" fill="#98381a"/>
<circle cx="560.42" cy="353.90" r="1.70" fill="#ac4a1e"/>
<circle cx="574.75" cy="353.90" r="1.90" fill="#ac4a1e"/>
<circle cx="589.08" cy="353.90" r="1.10" fill="#ac4a1e"/>
<circle cx="603.41" cy="353.90" r="2.40" fill="#ac4a1e"/>
<circle cx="617.74" cy="353.90" r="1.80" fill="#ac4a1e"/>
<circle cx="632.07" cy="353.90" r="5.90" fill="#28e6de"/>
<circle cx="646.40" cy="353.90" r="5.90" fill="#28e6de"/>
<circle cx="660.73" cy="353.90" r="5.70" fill="#28e6de"/>
<circle cx="675.06" cy="353.90" r="5.70" fill="#28e6de"/>
<circle cx="73.20" cy="384.95" r="3.10" fill="#98381a"/>
<circle cx="87.53" cy="384.95" r="3.00" fill="#8c3018"/>
<circle cx="101.86" cy="384.95" r="3.80" fill="#8c3018"/>
<circle cx="116.19" cy="384.95" r="3.00" fill="#9a3c1c"/>
<circle cx="130.52" cy="384.95" r="2.50" fill="#98381a"/>
<circle cx="144.85" cy="384.95" r="1.80" fill="#ac4a1e"/>
<circle cx="159.18" cy="384.95" r="1.20" fill="#ac4a1e"/>
<circle cx="173.51" cy="384.95" r="1.45" fill="#ac4a1e"/>
<circle cx="187.84" cy="384.95" r="1.20" fill="#ac4a1e"/>
<circle cx="202.17" cy="384.95" r="3.70" fill="#0a0a60"/>
<circle cx="216.50" cy="384.95" r="3.35" fill="#1e0a36"/>
<circle cx="230.83" cy="384.95" r="3.80" fill="#1a9aa8"/>
<circle cx="245.16" cy="384.95" r="2.40" fill="#ac4a1e"/>
<circle cx="259.49" cy="384.95" r="1.70" fill="#6e1c16"/>
<circle cx="273.82" cy="384.95" r="1.90" fill="#ac4a1e"/>
<circle cx="288.15" cy="384.95" r="2.40" fill="#9a3c1c"/>
<circle cx="302.48" cy="384.95" r="1.45" fill="#ac4a1e"/>
<circle cx="316.81" cy="384.95" r="1.20" fill="#ac4a1e"/>
<circle cx="331.14" cy="384.95" r="1.20" fill="#ac4a1e"/>
<circle cx="345.47" cy="384.95" r="1.90" fill="#ac4a1e"/>
<circle cx="359.80" cy="384.95" r="2.15" fill="#ac4a1e"/>
<circle cx="374.13" cy="384.95" r="1.45" fill="#ac4a1e"/>
<circle cx="388.46" cy="384.95" r="1.20" fill="#ac4a1e"/>
<circle cx="402.79" cy="384.95" r="1.70" fill="#c06a1c"/>
<circle cx="417.12" cy="384.95" r="2.65" fill="#98381a"/>
<circle cx="431.45" cy="384.95" r="0.85" fill="#c06a1c"/>
<circle cx="445.78" cy="384.95" r="1.20" fill="#ac4a1e"/>
<circle cx="460.11" cy="384.95" r="1.35" fill="#c06a1c"/>
<circle cx="474.44" cy="384.95" r="1.90" fill="#d08a1c"/>
<circle cx="488.77" cy="384.95" r="1.10" fill="#ac4a1e"/>
<circle cx="503.10" cy="384.95" r="1.45" fill="#ac4a1e"/>
<circle cx="517.43" cy="384.95" r="1.90" fill="#98381a"/>
<circle cx="531.76" cy="384.95" r="0.85" fill="#ac4a1e"/>
<circle cx="546.09" cy="384.95" r="2.40" fill="#9a3c1c"/>
<circle cx="560.42" cy="384.95" r="6.40" fill="#28e6de"/>
<circle cx="574.75" cy="384.95" r="6.40" fill="#28e6de"/>
<circle cx="589.08" cy="384.95" r="4.75" fill="#28e6de"/>
<circle cx="603.41" cy="384.95" r="5.45" fill="#28e6de"/>
<circle cx="617.74" cy="384.95" r="5.70" fill="#28e6de"/>
<circle cx="632.07" cy="384.95" r="0.65" fill="#ac4a1e"/>
<circle cx="646.40" cy="384.95" r="0.65" fill="#ac4a1e"/>
<circle cx="660.73" cy="384.95" r="0.75" fill="#ac4a1e"/>
<circle cx="675.06" cy="384.95" r="1.00" fill="#ac4a1e"/>
<circle cx="73.20" cy="416.00" r="3.10" fill="#9a3c1c"/>
<circle cx="87.53" cy="416.00" r="3.10" fill="#9a3c1c"/>
<circle cx="101.86" cy="416.00" r="3.80" fill="#ac4a1e"/>
<circle cx="116.19" cy="416.00" r="4.50" fill="#6e1c16"/>
<circle cx="130.52" cy="416.00" r="2.75" fill="#9a3c1c"/>
<circle cx="144.85" cy="416.00" r="1.20" fill="#ac4a1e"/>
<circle cx="159.18" cy="416.00" r="1.20" fill="#ac4a1e"/>
<circle cx="173.51" cy="416.00" r="1.10" fill="#ac4a1e"/>
<circle cx="187.84" cy="416.00" r="1.10" fill="#ac4a1e"/>
<circle cx="202.17" cy="416.00" r="2.15" fill="#d08a1c"/>
<circle cx="216.50" cy="416.00" r="3.35" fill="#9a3c1c"/>
<circle cx="230.83" cy="416.00" r="1.20" fill="#ac4a1e"/>
<circle cx="245.16" cy="416.00" r="1.70" fill="#c06a1c"/>
<circle cx="259.49" cy="416.00" r="2.40" fill="#ac4a1e"/>
<circle cx="273.82" cy="416.00" r="1.45" fill="#d08a1c"/>
<circle cx="288.15" cy="416.00" r="2.40" fill="#ac4a1e"/>
<circle cx="302.48" cy="416.00" r="1.70" fill="#ac4a1e"/>
<circle cx="316.81" cy="416.00" r="1.35" fill="#ac4a1e"/>
<circle cx="331.14" cy="416.00" r="1.35" fill="#ac4a1e"/>
<circle cx="345.47" cy="416.00" r="2.15" fill="#ac4a1e"/>
<circle cx="359.80" cy="416.00" r="1.10" fill="#ac4a1e"/>
<circle cx="374.13" cy="416.00" r="1.10" fill="#ac4a1e"/>
<circle cx="388.46" cy="416.00" r="1.00" fill="#ac4a1e"/>
<circle cx="402.79" cy="416.00" r="1.45" fill="#c06a1c"/>
<circle cx="417.12" cy="416.00" r="1.90" fill="#ac4a1e"/>
<circle cx="431.45" cy="416.00" r="1.10" fill="#ac4a1e"/>
<circle cx="445.78" cy="416.00" r="1.00" fill="#ac4a1e"/>
<circle cx="460.11" cy="416.00" r="1.20" fill="#ac4a1e"/>
<circle cx="474.44" cy="416.00" r="5.20" fill="#0a0a60"/>
<circle cx="488.77" cy="416.00" r="5.90" fill="#28e6de"/>
<circle cx="503.10" cy="416.00" r="5.70" fill="#28e6de"/>
<circle cx="517.43" cy="416.00" r="5.45" fill="#28e6de"/>
<circle cx="531.76" cy="416.00" r="5.00" fill="#28e6de"/>
<circle cx="546.09" cy="416.00" r="5.90" fill="#28e6de"/>
<circle cx="560.42" cy="416.00" r="1.45" fill="#ac4a1e"/>
<circle cx="574.75" cy="416.00" r="1.70" fill="#ac4a1e"/>
<circle cx="589.08" cy="416.00" r="1.10" fill="#ac4a1e"/>
<circle cx="603.41" cy="416.00" r="1.70" fill="#ac4a1e"/>
<circle cx="617.74" cy="416.00" r="1.45" fill="#ac4a1e"/>
<circle cx="632.07" cy="416.00" r="1.00" fill="#ac4a1e"/>
<circle cx="646.40" cy="416.00" r="0.75" fill="#ac4a1e"/>
<circle cx="660.73" cy="416.00" r="1.00" fill="#ac4a1e"/>
<circle cx="675.06" cy="416.00" r="1.20" fill="#ac4a1e"/>
<circle cx="73.20" cy="447.05" r="3.10" fill="#9a3c1c"/>
<circle cx="87.53" cy="447.05" r="3.10" fill="#98381a"/>
<circle cx="101.86" cy="447.05" r="3.60" fill="#9a3c1c"/>
<circle cx="116.19" cy="447.05" r="3.35" fill="#6e1c16"/>
<circle cx="130.52" cy="447.05" r="2.40" fill="#9a3c1c"/>
<circle cx="144.85" cy="447.05" r="1.35" fill="#ac4a1e"/>
<circle cx="159.18" cy="447.05" r="1.35" fill="#ac4a1e"/>
<circle cx="173.51" cy="447.05" r="1.20" fill="#ac4a1e"/>
<circle cx="187.84" cy="447.05" r="1.10" fill="#ac4a1e"/>
<circle cx="202.17" cy="447.05" r="2.40" fill="#c8781c"/>
<circle cx="216.50" cy="447.05" r="1.70" fill="#ac4a1e"/>
<circle cx="230.83" cy="447.05" r="1.45" fill="#c06a1c"/>
<circle cx="245.16" cy="447.05" r="3.60" fill="#9a3c1c"/>
<circle cx="259.49" cy="447.05" r="2.40" fill="#98381a"/>
<circle cx="273.82" cy="447.05" r="2.40" fill="#c06a1c"/>
<circle cx="288.15" cy="447.05" r="3.60" fill="#9a3c1c"/>
<circle cx="302.48" cy="447.05" r="3.10" fill="#9a3c1c"/>
<circle cx="316.81" cy="447.05" r="2.05" fill="#ac4a1e"/>
<circle cx="331.14" cy="447.05" r="2.40" fill="#ac4a1e"/>
<circle cx="345.47" cy="447.05" r="2.90" fill="#9a3c1c"/>
<circle cx="359.80" cy="447.05" r="3.35" fill="#2a0a1c"/>
<circle cx="374.13" cy="447.05" r="3.35" fill="#1e0a36"/>
<circle cx="388.46" cy="447.05" r="3.35" fill="#1e0a36"/>
<circle cx="402.79" cy="447.05" r="4.30" fill="#0a2080"/>
<circle cx="417.12" cy="447.05" r="3.10" fill="#1e0a36"/>
<circle cx="431.45" cy="447.05" r="4.30" fill="#1a8cb0"/>
<circle cx="445.78" cy="447.05" r="3.80" fill="#0a2080"/>
<circle cx="460.11" cy="447.05" r="3.80" fill="#1e0a36"/>
<circle cx="474.44" cy="447.05" r="4.50" fill="#0a4a9c"/>
<circle cx="488.77" cy="447.05" r="1.00" fill="#ac4a1e"/>
<circle cx="503.10" cy="447.05" r="2.40" fill="#9a3c1c"/>
<circle cx="517.43" cy="447.05" r="1.20" fill="#ac4a1e"/>
<circle cx="531.76" cy="447.05" r="0.75" fill="#ac4a1e"/>
<circle cx="546.09" cy="447.05" r="3.10" fill="#9a3c1c"/>
<circle cx="560.42" cy="447.05" r="1.70" fill="#ac4a1e"/>
<circle cx="574.75" cy="447.05" r="1.90" fill="#ac4a1e"/>
<circle cx="589.08" cy="447.05" r="1.00" fill="#ac4a1e"/>
<circle cx="603.41" cy="447.05" r="1.90" fill="#ac4a1e"/>
<circle cx="617.74" cy="447.05" r="1.90" fill="#ac4a1e"/>
<circle cx="632.07" cy="447.05" r="3.10" fill="#1e0a36"/>
<circle cx="646.40" cy="447.05" r="1.20" fill="#ac4a1e"/>
<circle cx="660.73" cy="447.05" r="2.90" fill="#4a1010"/>
<circle cx="675.06" cy="447.05" r="2.40" fill="#9a3c1c"/>
<circle cx="73.20" cy="478.10" r="2.65" fill="#9a3c1c"/>
<circle cx="87.53" cy="478.10" r="3.00" fill="#ac4a1e"/>
<circle cx="101.86" cy="478.10" r="3.70" fill="#ac4a1e"/>
<circle cx="116.19" cy="478.10" r="2.75" fill="#ac4a1e"/>
<circle cx="130.52" cy="478.10" r="2.50" fill="#ac4a1e"/>
<circle cx="144.85" cy="478.10" r="1.80" fill="#ac4a1e"/>
<circle cx="159.18" cy="478.10" r="1.55" fill="#ac4a1e"/>
<circle cx="173.51" cy="478.10" r="1.55" fill="#ac4a1e"/>
<circle cx="187.84" cy="478.10" r="1.10" fill="#ac4a1e"/>
<circle cx="202.17" cy="478.10" r="2.75" fill="#c8781c"/>
<circle cx="216.50" cy="478.10" r="1.90" fill="#ac4a1e"/>
<circle cx="230.83" cy="478.10" r="1.20" fill="#c06a1c"/>
<circle cx="245.16" cy="478.10" r="3.80" fill="#9a3c1c"/>
<circle cx="259.49" cy="478.10" r="3.35" fill="#4a1010"/>
<circle cx="273.82" cy="478.10" r="2.65" fill="#c06a1c"/>
<circle cx="288.15" cy="478.10" r="4.05" fill="#9a3c1c"/>
<circle cx="302.48" cy="478.10" r="3.35" fill="#9a3c1c"/>
<circle cx="316.81" cy="478.10" r="2.15" fill="#ac4a1e"/>
<circle cx="331.14" cy="478.10" r="2.40" fill="#ac4a1e"/>
<circle cx="345.47" cy="478.10" r="3.35" fill="#9a3c1c"/>
<circle cx="359.80" cy="478.10" r="4.50" fill="#28e6de"/>
<circle cx="374.13" cy="478.10" r="4.50" fill="#28e6de"/>
<circle cx="388.46" cy="478.10" r="4.50" fill="#28e6de"/>
<circle cx="402.79" cy="478.10" r="4.30" fill="#1a9aa8"/>
<circle cx="417.12" cy="478.10" r="4.05" fill="#22d0d0"/>
<circle cx="431.45" cy="478.10" r="4.50" fill="#0a4a9c"/>
<circle cx="445.78" cy="478.10" r="4.30" fill="#22d0d0"/>
<circle cx="460.11" cy="478.10" r="4.30" fill="#2a0a1c"/>
<circle cx="474.44" cy="478.10" r="5.00" fill="#0a2080"/>
<circle cx="488.77" cy="478.10" r="1.10" fill="#ac4a1e"/>
<circle cx="503.10" cy="478.10" r="2.90" fill="#98381a"/>
<circle cx="517.43" cy="478.10" r="1.35" fill="#ac4a1e"/>
<circle cx="531.76" cy="478.10" r="1.00" fill="#ac4a1e"/>
<circle cx="546.09" cy="478.10" r="3.60" fill="#ac4a1e"/>
<circle cx="560.42" cy="478.10" r="1.45" fill="#ac4a1e"/>
<circle cx="574.75" cy="478.10" r="1.55" fill="#ac4a1e"/>
<circle cx="589.08" cy="478.10" r="1.00" fill="#ac4a1e"/>
<circle cx="603.41" cy="478.10" r="1.90" fill="#ac4a1e"/>
<circle cx="617.74" cy="478.10" r="2.65" fill="#9a3c1c"/>
<circle cx="632.07" cy="478.10" r="3.60" fill="#6e1c16"/>
<circle cx="646.40" cy="478.10" r="1.00" fill="#ac4a1e"/>
<circle cx="660.73" cy="478.10" r="3.10" fill="#8c3018"/>
<circle cx="675.06" cy="478.10" r="3.35" fill="#98381a"/>
<circle cx="73.20" cy="509.15" r="2.60" fill="#9a3c1c"/>
<circle cx="87.53" cy="509.15" r="2.85" fill="#9a3c1c"/>
<circle cx="101.86" cy="509.15" r="3.30" fill="#9a3c1c"/>
<circle cx="116.19" cy="509.15" r="2.85" fill="#ac4a1e"/>
<circle cx="130.52" cy="509.15" r="2.35" fill="#9a3c1c"/>
<circle cx="144.85" cy="509.15" r="1.55" fill="#ac4a1e"/>
<circle cx="159.18" cy="509.15" r="1.45" fill="#ac4a1e"/>
<circle cx="173.51" cy="509.15" r="1.20" fill="#ac4a1e"/>
<circle cx="187.84" cy="509.15" r="1.20" fill="#ac4a1e"/>
<circle cx="202.17" cy="509.15" r="4.25" fill="#0a0a60"/>
<circle cx="216.50" cy="509.15" r="1.55" fill="#c06a1c"/>
<circle cx="230.83" cy="509.15" r="1.20" fill="#c06a1c"/>
<circle cx="245.16" cy="509.15" r="5.85" fill="#0a4a9c"/>
<circle cx="259.49" cy="509.15" r="1.10" fill="#c06a1c"/>
<circle cx="273.82" cy="509.15" r="4.70" fill="#0a0a60"/>
<circle cx="288.15" cy="509.15" r="5.15" fill="#28e6de"/>
<circle cx="302.48" cy="509.15" r="4.00" fill="#28e6de"/>
<circle cx="316.81" cy="509.15" r="3.75" fill="#28e6de"/>
<circle cx="331.14" cy="509.15" r="3.75" fill="#28e6de"/>
<circle cx="345.47" cy="509.15" r="4.00" fill="#28e6de"/>
<circle cx="359.80" cy="509.15" r="1.20" fill="#ac4a1e"/>
<circle cx="374.13" cy="509.15" r="1.20" fill="#ac4a1e"/>
<circle cx="388.46" cy="509.15" r="1.10" fill="#ac4a1e"/>
<circle cx="402.79" cy="509.15" r="1.20" fill="#c06a1c"/>
<circle cx="417.12" cy="509.15" r="1.65" fill="#ac4a1e"/>
<circle cx="431.45" cy="509.15" r="0.95" fill="#ac4a1e"/>
<circle cx="445.78" cy="509.15" r="0.95" fill="#ac4a1e"/>
<circle cx="460.11" cy="509.15" r="1.10" fill="#ac4a1e"/>
<circle cx="474.44" cy="509.15" r="4.25" fill="#9a3c1c"/>
<circle cx="488.77" cy="509.15" r="0.95" fill="#ac4a1e"/>
<circle cx="503.10" cy="509.15" r="3.30" fill="#8c3018"/>
<circle cx="517.43" cy="509.15" r="0.75" fill="#ac4a1e"/>
<circle cx="531.76" cy="509.15" r="0.75" fill="#ac4a1e"/>
<circle cx="546.09" cy="509.15" r="4.30" fill="#9a3c1c"/>
<circle cx="560.42" cy="509.15" r="1.60" fill="#ac4a1e"/>
<circle cx="574.75" cy="509.15" r="1.80" fill="#ac4a1e"/>
<circle cx="589.08" cy="509.15" r="1.05" fill="#ac4a1e"/>
<circle cx="603.41" cy="509.15" r="1.80" fill="#ac4a1e"/>
<circle cx="617.74" cy="509.15" r="1.60" fill="#ac4a1e"/>
<circle cx="632.07" cy="509.15" r="1.15" fill="#ac4a1e"/>
<circle cx="646.40" cy="509.15" r="0.95" fill="#ac4a1e"/>
<circle cx="660.73" cy="509.15" r="1.05" fill="#ac4a1e"/>
<circle cx="675.06" cy="509.15" r="1.15" fill="#ac4a1e"/>
<circle cx="73.20" cy="540.20" r="2.60" fill="#9a3c1c"/>
<circle cx="87.53" cy="540.20" r="2.85" fill="#98381a"/>
<circle cx="101.86" cy="540.20" r="3.55" fill="#8c3018"/>
<circle cx="116.19" cy="540.20" r="3.10" fill="#9a3c1c"/>
<circle cx="130.52" cy="540.20" r="2.40" fill="#9a3c1c"/>
<circle cx="144.85" cy="540.20" r="2.75" fill="#6e1c16"/>
<circle cx="159.18" cy="540.20" r="1.90" fill="#ac4a1e"/>
<circle cx="173.51" cy="540.20" r="1.65" fill="#ac4a1e"/>
<circle cx="187.84" cy="540.20" r="1.65" fill="#ac4a1e"/>
<circle cx="202.17" cy="540.20" r="3.55" fill="#98381a"/>
<circle cx="216.50" cy="540.20" r="4.70" fill="#28e6de"/>
<circle cx="230.83" cy="540.20" r="3.75" fill="#0a4a9c"/>
<circle cx="245.16" cy="540.20" r="5.40" fill="#1a9aa8"/>
<circle cx="259.49" cy="540.20" r="3.30" fill="#28e6de"/>
<circle cx="273.82" cy="540.20" r="4.70" fill="#22d0d0"/>
<circle cx="288.15" cy="540.20" r="3.55" fill="#98381a"/>
<circle cx="302.48" cy="540.20" r="2.40" fill="#9a3c1c"/>
<circle cx="316.81" cy="540.20" r="1.65" fill="#ac4a1e"/>
<circle cx="331.14" cy="540.20" r="1.90" fill="#ac4a1e"/>
<circle cx="345.47" cy="540.20" r="2.40" fill="#9a3c1c"/>
<circle cx="359.80" cy="540.20" r="1.45" fill="#ac4a1e"/>
<circle cx="374.13" cy="540.20" r="1.45" fill="#ac4a1e"/>
<circle cx="388.46" cy="540.20" r="1.55" fill="#ac4a1e"/>
<circle cx="402.79" cy="540.20" r="1.45" fill="#c06a1c"/>
<circle cx="417.12" cy="540.20" r="3.30" fill="#9a3c1c"/>
<circle cx="431.45" cy="540.20" r="1.10" fill="#ac4a1e"/>
<circle cx="445.78" cy="540.20" r="1.10" fill="#ac4a1e"/>
<circle cx="460.11" cy="540.20" r="2.35" fill="#c06a1c"/>
<circle cx="474.44" cy="540.20" r="3.55" fill="#c8781c"/>
<circle cx="488.77" cy="540.20" r="1.10" fill="#ac4a1e"/>
<circle cx="503.10" cy="540.20" r="2.15" fill="#ac4a1e"/>
<circle cx="517.43" cy="540.20" r="2.60" fill="#8c3018"/>
<circle cx="531.76" cy="540.20" r="0.85" fill="#ac4a1e"/>
<circle cx="546.09" cy="540.20" r="4.05" fill="#ac4a1e"/>
<circle cx="560.42" cy="540.20" r="3.85" fill="#9a3c1c"/>
<circle cx="574.75" cy="540.20" r="4.30" fill="#6e1c16"/>
<circle cx="589.08" cy="540.20" r="2.95" fill="#9a3c1c"/>
<circle cx="603.41" cy="540.20" r="3.85" fill="#4a1010"/>
<circle cx="617.74" cy="540.20" r="3.40" fill="#6e1c16"/>
<circle cx="632.07" cy="540.20" r="1.05" fill="#ac4a1e"/>
<circle cx="646.40" cy="540.20" r="1.05" fill="#ac4a1e"/>
<circle cx="660.73" cy="540.20" r="1.05" fill="#ac4a1e"/>
<circle cx="675.06" cy="540.20" r="1.40" fill="#ac4a1e"/>
<circle cx="73.20" cy="571.25" r="2.40" fill="#9a3c1c"/>
<circle cx="87.53" cy="571.25" r="2.60" fill="#9a3c1c"/>
<circle cx="101.86" cy="571.25" r="3.30" fill="#9a3c1c"/>
<circle cx="116.19" cy="571.25" r="3.10" fill="#9a3c1c"/>
<circle cx="130.52" cy="571.25" r="2.40" fill="#9a3c1c"/>
<circle cx="144.85" cy="571.25" r="5.15" fill="#28e6de"/>
<circle cx="159.18" cy="571.25" r="3.30" fill="#28e6de"/>
<circle cx="173.51" cy="571.25" r="4.90" fill="#28e6de"/>
<circle cx="187.84" cy="571.25" r="4.90" fill="#28e6de"/>
<circle cx="202.17" cy="571.25" r="5.40" fill="#1a9aa8"/>
<circle cx="216.50" cy="571.25" r="1.80" fill="#ac4a1e"/>
<circle cx="230.83" cy="571.25" r="1.55" fill="#ac4a1e"/>
<circle cx="245.16" cy="571.25" r="2.60" fill="#ac4a1e"/>
<circle cx="259.49" cy="571.25" r="1.45" fill="#c06a1c"/>
<circle cx="273.82" cy="571.25" r="2.40" fill="#ac4a1e"/>
<circle cx="288.15" cy="571.25" r="3.30" fill="#9a3c1c"/>
<circle cx="302.48" cy="571.25" r="2.40" fill="#9a3c1c"/>
<circle cx="316.81" cy="571.25" r="1.55" fill="#ac4a1e"/>
<circle cx="331.14" cy="571.25" r="1.65" fill="#ac4a1e"/>
<circle cx="345.47" cy="571.25" r="2.60" fill="#9a3c1c"/>
<circle cx="359.80" cy="571.25" r="1.45" fill="#ac4a1e"/>
<circle cx="374.13" cy="571.25" r="1.30" fill="#ac4a1e"/>
<circle cx="388.46" cy="571.25" r="1.45" fill="#ac4a1e"/>
<circle cx="402.79" cy="571.25" r="1.45" fill="#ac4a1e"/>
<circle cx="417.12" cy="571.25" r="2.15" fill="#ac4a1e"/>
<circle cx="431.45" cy="571.25" r="1.10" fill="#ac4a1e"/>
<circle cx="445.78" cy="571.25" r="1.10" fill="#ac4a1e"/>
<circle cx="460.11" cy="571.25" r="1.45" fill="#ac4a1e"/>
<circle cx="474.44" cy="571.25" r="4.45" fill="#c06a1c"/>
<circle cx="488.77" cy="571.25" r="0.95" fill="#ac4a1e"/>
<circle cx="503.10" cy="571.25" r="2.35" fill="#9a3c1c"/>
<circle cx="517.43" cy="571.25" r="1.65" fill="#ac4a1e"/>
<circle cx="531.76" cy="571.25" r="0.95" fill="#ac4a1e"/>
<circle cx="546.09" cy="571.25" r="4.30" fill="#6e1c16"/>
<circle cx="560.42" cy="571.25" r="1.60" fill="#ac4a1e"/>
<circle cx="574.75" cy="571.25" r="2.05" fill="#ac4a1e"/>
<circle cx="589.08" cy="571.25" r="1.05" fill="#ac4a1e"/>
<circle cx="603.41" cy="571.25" r="2.05" fill="#ac4a1e"/>
<circle cx="617.74" cy="571.25" r="1.60" fill="#ac4a1e"/>
<circle cx="632.07" cy="571.25" r="1.15" fill="#ac4a1e"/>
<circle cx="646.40" cy="571.25" r="1.05" fill="#ac4a1e"/>
<circle cx="660.73" cy="571.25" r="1.15" fill="#ac4a1e"/>
<circle cx="675.06" cy="571.25" r="1.60" fill="#ac4a1e"/>
<circle cx="73.20" cy="602.30" r="4.00" fill="#28e6de"/>
<circle cx="87.53" cy="602.30" r="4.90" fill="#28e6de"/>
<circle cx="101.86" cy="602.30" r="5.85" fill="#28e6de"/>
<circle cx="116.19" cy="602.30" r="5.15" fill="#28e6de"/>
<circle cx="130.52" cy="602.30" r="4.45" fill="#28e6de"/>
<circle cx="144.85" cy="602.30" r="1.45" fill="#ac4a1e"/>
<circle cx="159.18" cy="602.30" r="0.95" fill="#ac4a1e"/>
<circle cx="173.51" cy="602.30" r="1.45" fill="#ac4a1e"/>
<circle cx="187.84" cy="602.30" r="1.20" fill="#ac4a1e"/>
<circle cx="202.17" cy="602.30" r="1.65" fill="#c8781c"/>
<circle cx="216.50" cy="602.30" r="3.10" fill="#8c3018"/>
<circle cx="230.83" cy="602.30" r="1.30" fill="#ac4a1e"/>
<circle cx="245.16" cy="602.30" r="2.15" fill="#c06a1c"/>
<circle cx="259.49" cy="602.30" r="2.15" fill="#c06a1c"/>
<circle cx="273.82" cy="602.30" r="1.45" fill="#c8781c"/>
<circle cx="288.15" cy="602.30" r="3.10" fill="#9a3c1c"/>
<circle cx="302.48" cy="602.30" r="2.15" fill="#ac4a1e"/>
<circle cx="316.81" cy="602.30" r="1.45" fill="#ac4a1e"/>
<circle cx="331.14" cy="602.30" r="1.20" fill="#ac4a1e"/>
<circle cx="345.47" cy="602.30" r="2.60" fill="#9a3c1c"/>
<circle cx="359.80" cy="602.30" r="1.65" fill="#ac4a1e"/>
<circle cx="374.13" cy="602.30" r="1.20" fill="#ac4a1e"/>
<circle cx="388.46" cy="602.30" r="1.20" fill="#ac4a1e"/>
<circle cx="402.79" cy="602.30" r="1.55" fill="#ac4a1e"/>
<circle cx="417.12" cy="602.30" r="2.85" fill="#9a3c1c"/>
<circle cx="431.45" cy="602.30" r="0.95" fill="#ac4a1e"/>
<circle cx="445.78" cy="602.30" r="1.10" fill="#ac4a1e"/>
<circle cx="460.11" cy="602.30" r="1.30" fill="#ac4a1e"/>
<circle cx="474.44" cy="602.30" r="4.25" fill="#c06a1c"/>
<circle cx="488.77" cy="602.30" r="0.95" fill="#ac4a1e"/>
<circle cx="503.10" cy="602.30" r="0.95" fill="#ac4a1e"/>
<circle cx="517.43" cy="602.30" r="1.45" fill="#ac4a1e"/>
<circle cx="531.76" cy="602.30" r="0.85" fill="#ac4a1e"/>
<circle cx="546.09" cy="602.30" r="4.50" fill="#6e1c16"/>
<circle cx="560.42" cy="602.30" r="1.60" fill="#ac4a1e"/>
<circle cx="574.75" cy="602.30" r="1.80" fill="#ac4a1e"/>
<circle cx="589.08" cy="602.30" r="1.05" fill="#ac4a1e"/>
<circle cx="603.41" cy="602.30" r="1.80" fill="#ac4a1e"/>
<circle cx="617.74" cy="602.30" r="1.60" fill="#ac4a1e"/>
<circle cx="632.07" cy="602.30" r="1.05" fill="#ac4a1e"/>
<circle cx="646.40" cy="602.30" r="0.95" fill="#ac4a1e"/>
<circle cx="660.73" cy="602.30" r="1.05" fill="#ac4a1e"/>
<circle cx="675.06" cy="602.30" r="2.50" fill="#9a3c1c"/>
</svg>
</body></html>
